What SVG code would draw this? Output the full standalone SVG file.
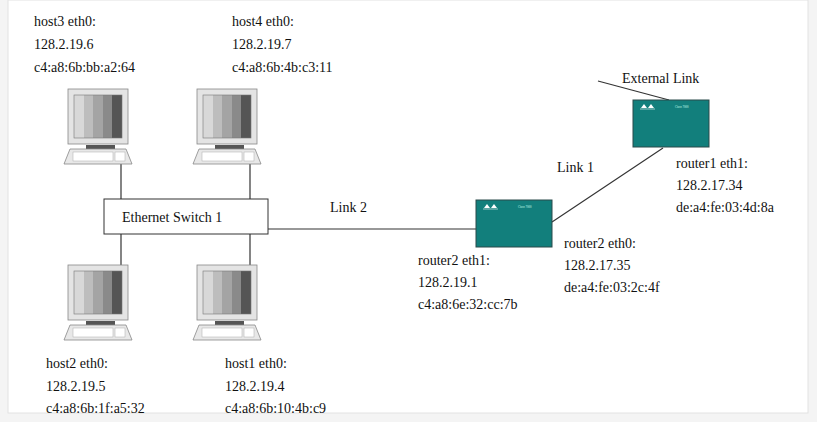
<svg xmlns="http://www.w3.org/2000/svg" xmlns:xlink="http://www.w3.org/1999/xlink" width="817" height="422" viewBox="0 0 817 422">
<style>
text{font-family:"Liberation Serif",serif;font-size:14px;fill:#111}
.ln{stroke:#333;stroke-width:1.2;fill:none}
.rt{fill:#127f7c;stroke:#2a4a4a;stroke-width:1}
</style>
<defs>
<linearGradient id="scr" x1="0" x2="1" y1="0" y2="0">
<stop offset="0" stop-color="#d8d8d8"/><stop offset="0.2" stop-color="#d8d8d8"/>
<stop offset="0.2" stop-color="#bdbdbd"/><stop offset="0.4" stop-color="#bdbdbd"/>
<stop offset="0.4" stop-color="#a4a4a4"/><stop offset="0.6" stop-color="#a4a4a4"/>
<stop offset="0.6" stop-color="#8a8a8a"/><stop offset="0.8" stop-color="#8a8a8a"/>
<stop offset="0.8" stop-color="#555"/><stop offset="1" stop-color="#555"/>
</linearGradient>
<g id="pc">
<rect x="-52" y="0" width="60" height="55" fill="#e4e4e4" stroke="#888" stroke-width="0.8"/>
<rect x="-46" y="6" width="48" height="43" fill="url(#scr)" stroke="#777" stroke-width="0.6"/>
<rect x="-34" y="56" width="29" height="4" fill="#555"/>
<path d="M-50 60 L6 60 L12 75 L-56 75 Z" fill="#e8e8e8" stroke="#888" stroke-width="0.8"/>
<rect x="-47" y="63" width="40" height="9" fill="#fff" stroke="#aaa" stroke-width="0.5"/>
<rect x="-5" y="63" width="10" height="9" fill="#fff" stroke="#aaa" stroke-width="0.5"/>
</g>
<g id="router">
<rect x="0" y="0" width="76" height="47" class="rt"/>
<path d="M8 8 l3 -4 l3 4 z M15 8 l3 -4 l3 4 z" fill="#fff"/>
<line x1="7" y1="9" x2="22" y2="9" stroke="#fff" stroke-width="0.6"/>
<text x="42" y="8" style="font-size:3px;fill:#cfe">Cisco 7000</text>
</g>
</defs>
<rect width="817" height="422" fill="#f4f4f4"/>
<rect x="8" y="0" width="800" height="413" fill="#fff" stroke="#e2e2e2"/>
<g id="connectors">
<line class="ln" x1="121" y1="164" x2="121" y2="199"/>
<line class="ln" x1="250" y1="164" x2="250" y2="199"/>
<line class="ln" x1="121" y1="234" x2="121" y2="265"/>
<line class="ln" x1="250" y1="234" x2="250" y2="265"/>
<line class="ln" x1="268" y1="229" x2="476" y2="229"/>
<line class="ln" x1="552" y1="222" x2="663" y2="148"/>
<line class="ln" x1="598" y1="81" x2="669" y2="100"/>
</g>
<g id="switch">
<rect x="104" y="199" width="164" height="35" fill="#fff" stroke="#333" stroke-width="1"/>
<text x="122" y="222">Ethernet Switch 1</text>
</g>
<g id="host3"><use xlink:href="#pc" x="120" y="89"/>
<text x="34" y="26">host3 eth0:</text><text x="34" y="49">128.2.19.6</text><text x="34" y="72">c4:a8:6b:bb:a2:64</text></g>
<g id="host4"><use xlink:href="#pc" x="249" y="89"/>
<text x="232" y="26">host4 eth0:</text><text x="232" y="49">128.2.19.7</text><text x="232" y="72">c4:a8:6b:4b:c3:11</text></g>
<g id="host2"><use xlink:href="#pc" x="120" y="265"/>
<text x="46" y="368">host2 eth0:</text><text x="46" y="391">128.2.19.5</text><text x="46" y="413">c4:a8:6b:1f:a5:32</text></g>
<g id="host1"><use xlink:href="#pc" x="249" y="265"/>
<text x="225" y="368">host1 eth0:</text><text x="225" y="391">128.2.19.4</text><text x="225" y="413">c4:a8:6b:10:4b:c9</text></g>
<g id="router2"><use xlink:href="#router" x="476" y="200"/>
<text x="418" y="265">router2 eth1:</text><text x="418" y="287">128.2.19.1</text><text x="418" y="309">c4:a8:6e:32:cc:7b</text>
<text x="564" y="248">router2 eth0:</text><text x="564" y="270">128.2.17.35</text><text x="564" y="292">de:a4:fe:03:2c:4f</text></g>
<g id="router1"><use xlink:href="#router" x="633" y="100"/>
<text x="676" y="168">router1 eth1:</text><text x="676" y="190">128.2.17.34</text><text x="676" y="212">de:a4:fe:03:4d:8a</text></g>
<text x="622" y="83">External Link</text>
<text x="557" y="172">Link 1</text>
<text x="330" y="212">Link 2</text>
</svg>
